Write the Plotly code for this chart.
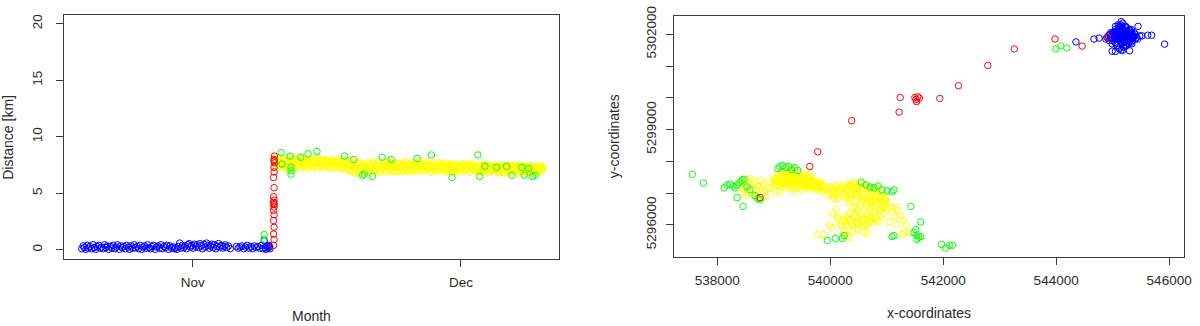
import plotly.graph_objects as go

# ---------------- Left panel: distance over time (days since 1 Nov) ----------------
month_tick_days = [0, 30]
month_tick_labels = ["Nov", "Dec"]
dist_ticks = [0, 5, 10, 15, 20]

blue_day = [
    -12.4, -12.25, -12.1, -11.95, -11.8, -11.65, -11.5, -11.3, -11.15, -11.0,
    -10.85, -10.7, -10.5, -10.35, -10.2, -10.0, -9.85, -9.7, -9.55, -9.4,
    -9.2, -9.05, -8.9, -8.7, -8.55, -8.4, -8.2, -8.05, -7.9, -7.7,
    -7.55, -7.4, -7.2, -7.05, -6.9, -6.7, -6.55, -6.4, -6.2, -6.05,
    -5.9, -5.7, -5.55, -5.4, -5.2, -5.05, -4.9, -4.7, -4.55, -4.4,
    -4.2, -4.05, -3.9, -3.7, -3.55, -3.4, -3.2, -3.05, -2.9, -2.7,
    -2.55, -2.4, -2.2, -2.05, -1.9, -1.75, -1.6, -1.45, -1.3, -1.15,
    -1.0, -0.85, -0.7, -0.55, -0.4, -0.25, -0.1, 0.05, 0.2, 0.35,
    0.5, 0.65, 0.8, 0.95, 1.1, 1.25, 1.4, 1.55, 1.7, 1.85,
    2.0, 2.15, 2.3, 2.45, 2.6, 2.75, 2.9, 3.05, 3.2, 3.35,
    3.5, 3.65, 3.8, 4.0, 4.2, 4.9, 5.1, 5.3, 5.5, 5.7,
    5.9, 6.1, 6.3, 6.5, 6.7, 6.9, 7.1, 7.3, 7.5, 7.7,
    7.85, 8.0, 8.1, 8.2, 8.3, 8.4, 8.5, 8.55, 8.6, 8.65,
]
blue_km = [
    0.1, 0.35, 0.2, 0.05, 0.4, 0.15, 0.3, 0.1, 0.45, 0.2,
    0.05, 0.3, 0.4, 0.15, 0.25, 0.1, 0.45, 0.2, 0.35, 0.05,
    0.3, 0.15, 0.4, 0.1, 0.25, 0.45, 0.05, 0.35, 0.2, 0.3,
    0.1, 0.4, 0.25, 0.05, 0.35, 0.15, 0.45, 0.2, 0.3, 0.1,
    0.4, 0.05, 0.25, 0.35, 0.15, 0.45, 0.2, 0.1, 0.3, 0.4,
    0.05, 0.25, 0.35, 0.15, 0.45, 0.1, 0.3, 0.2, 0.4, 0.05,
    0.35, 0.15, 0.25, 0.1, 0.2, 0.05, 0.3, 0.6, 0.15, 0.4,
    0.2, 0.35, 0.1, 0.45, 0.55, 0.25, 0.4, 0.15, 0.5, 0.3,
    0.45, 0.2, 0.55, 0.35, 0.1, 0.5, 0.25, 0.6, 0.4, 0.15,
    0.35, 0.5, 0.2, 0.45, 0.1, 0.3, 0.55, 0.25, 0.4, 0.15,
    0.3, 0.45, 0.2, 0.35, 0.1, 0.3, 0.15, 0.25, 0.35, 0.1,
    0.25, 0.4, 0.15, 0.3, 0.1, 0.35, 0.2, 0.3, 0.15, 0.4,
    0.1, 0.8, 0.2, 0.05, 0.35, 0.15, 0.4, 0.25, 0.3, 0.1,
]

red_day = [9.05, 9.1, 9.05, 9.1, 9.05, 9.1, 9.05, 9.1, 9.05, 9.1,
           9.1, 9.05, 9.1, 9.1, 9.05, 9.1, 9.1, 9.15, 9.1, 9.15, 9.1]
red_km = [0.4, 0.9, 1.4, 2.0, 2.6, 3.1, 3.5, 4.0, 4.2, 4.4,
          4.1, 4.7, 3.8, 5.5, 6.4, 6.9, 7.3, 7.7, 8.0, 8.3, 7.9]

yellow_day = [
    9.2, 9.3, 9.45, 9.6, 9.7, 9.85, 10.0, 10.1, 10.25, 10.4,
    10.55, 10.7, 10.8, 10.95, 11.1, 11.25, 11.4, 11.5, 11.65, 11.8,
    11.95, 12.1, 12.2, 12.35, 12.5, 12.65, 12.8, 12.9, 13.05, 13.2,
    13.35, 13.5, 13.6, 13.75, 13.9, 14.05, 14.2, 14.3, 14.45, 14.6,
    14.75, 14.9, 15.0, 15.15, 15.3, 15.45, 15.6, 15.7, 15.85, 16.0,
    16.15, 16.3, 16.4, 16.55, 16.7, 16.85, 17.0, 17.1, 17.25, 17.4,
    17.55, 17.7, 17.8, 17.95, 18.1, 18.25, 18.4, 18.5, 18.65, 18.8,
    18.95, 19.1, 19.2, 19.35, 19.5, 19.65, 19.8, 19.9, 20.05, 20.2,
    20.35, 20.5, 20.6, 20.75, 20.9, 21.05, 21.2, 21.3, 21.45, 21.6,
    21.75, 21.9, 22.0, 22.15, 22.3, 22.45, 22.6, 22.7, 22.85, 23.0,
    23.15, 23.3, 23.4, 23.55, 23.7, 23.85, 24.0, 24.1, 24.25, 24.4,
    24.55, 24.7, 24.8, 24.95, 25.1, 25.25, 25.4, 25.5, 25.65, 25.8,
    25.95, 26.1, 26.2, 26.35, 26.5, 26.65, 26.8, 26.9, 27.05, 27.2,
    27.35, 27.5, 27.6, 27.75, 27.9, 28.05, 28.2, 28.3, 28.45, 28.6,
    28.75, 28.9, 29.0, 29.15, 29.3, 29.45, 29.6, 29.7, 29.85, 30.0,
    30.15, 30.3, 30.4, 30.55, 30.7, 30.85, 31.0, 31.1, 31.25, 31.4,
    31.55, 31.7, 31.8, 31.95, 32.1, 32.25, 32.4, 32.5, 32.65, 32.8,
    32.95, 33.1, 33.2, 33.35, 33.5, 33.65, 33.8, 33.9, 34.05, 34.2,
    34.35, 34.5, 34.6, 34.75, 34.9, 35.05, 35.2, 35.3, 35.45, 35.6,
    35.75, 35.9, 36.0, 36.15, 36.3, 36.45, 36.6, 36.7, 36.85, 37.0,
    37.15, 37.3, 37.4, 37.55, 37.7, 37.85, 38.0, 38.1, 38.25, 38.4,
    38.55, 38.7, 38.8, 38.95, 39.1, 39.2,
    # second pass of fixes
    9.25, 9.4, 9.55, 9.75, 9.95, 10.15, 10.35, 10.5, 10.65, 10.85,
    11.05, 11.2, 11.35, 11.55, 11.75, 11.9, 12.05, 12.25, 12.45, 12.6,
    12.75, 12.95, 13.15, 13.3, 13.45, 13.65, 13.85, 14.0, 14.15, 14.35,
    14.55, 14.7, 14.85, 15.05, 15.25, 15.4, 15.55, 15.75, 15.95, 16.1,
    16.25, 16.45, 16.65, 16.8, 16.95, 17.15, 17.35, 17.5, 17.65, 17.85,
    18.05, 18.2, 18.35, 18.55, 18.75, 18.9, 19.05, 19.25, 19.45, 19.6,
    19.75, 19.95, 20.15, 20.3, 20.45, 20.65, 20.85, 21.0, 21.15, 21.35,
    21.55, 21.7, 21.85, 22.05, 22.25, 22.4, 22.55, 22.75, 22.95, 23.1,
    23.25, 23.45, 23.65, 23.8, 23.95, 24.15, 24.35, 24.5, 24.65, 24.85,
    25.05, 25.2, 25.35, 25.55, 25.75, 25.9, 26.05, 26.25, 26.45, 26.6,
    26.75, 26.95, 27.15, 27.3, 27.45, 27.65, 27.85, 28.0, 28.15, 28.35,
    28.55, 28.7, 28.85, 29.05, 29.25, 29.4, 29.55, 29.75, 29.95, 30.1,
    30.25, 30.45, 30.65, 30.8, 30.95, 31.15, 31.35, 31.5, 31.65, 31.85,
    32.05, 32.2, 32.35, 32.55, 32.75, 32.9, 33.05, 33.25, 33.45, 33.6,
    33.75, 33.95, 34.15, 34.3, 34.45, 34.65, 34.85, 35.0, 35.15, 35.35,
    35.55, 35.7, 35.85, 36.05, 36.25, 36.4, 36.55, 36.75, 36.95, 37.1,
    37.25, 37.45, 37.65, 37.8, 37.95, 38.15, 38.35, 38.5, 38.65, 38.85,
    39.0, 39.15,
]
yellow_km = [
    7.4, 7.9, 7.6, 8.1, 7.3, 7.8, 7.5, 8.0, 7.2, 7.7,
    7.9, 7.4, 8.2, 7.6, 7.3, 7.9, 7.7, 8.1, 7.4, 7.8,
    7.6, 8.0, 7.3, 7.8, 7.5, 8.1, 7.7, 7.2, 7.9, 7.6,
    8.0, 7.4, 7.8, 7.6, 8.1, 7.3, 7.9, 7.5, 7.7, 8.0,
    7.4, 7.8, 7.6, 8.0, 7.3, 7.7, 7.9, 7.5, 7.8, 7.2,
    7.6, 7.9, 7.4, 7.7, 8.0, 7.3, 7.6, 7.8, 7.1, 7.5,
    7.0, 7.4, 7.7, 6.9, 7.3, 7.6, 7.1, 7.8, 6.8, 7.4,
    7.2, 7.6, 6.9, 7.5, 7.0, 7.7, 7.3, 6.8, 7.5, 7.1,
    7.6, 7.0, 7.4, 7.8, 7.2, 6.9, 7.5, 7.3, 7.7, 7.0,
    7.4, 7.8, 7.1, 7.5, 6.9, 7.6, 7.3, 7.7, 7.0, 7.4,
    7.2, 7.6, 6.9, 7.5, 7.3, 7.8, 7.0, 7.4, 7.6, 7.1,
    7.5, 7.2, 7.7, 6.9, 7.4, 7.6, 7.1, 7.5, 7.3, 7.8,
    7.0, 7.4, 7.6, 7.2, 7.5, 6.9, 7.3, 7.7, 7.1, 7.4,
    7.6, 7.0, 7.3, 7.5, 7.2, 7.7, 6.9, 7.4, 7.1, 7.6,
    7.3, 7.5, 6.9, 7.2, 7.6, 7.0, 7.4, 7.2, 7.5, 6.9,
    7.3, 7.6, 7.0, 7.4, 7.2, 7.5, 6.9, 7.3, 7.6, 7.1,
    7.4, 7.0, 7.3, 7.5, 7.1, 6.9, 7.4, 7.2, 7.6, 7.0,
    7.3, 7.5, 6.9, 7.2, 7.4, 7.0, 7.5, 7.1, 7.3, 6.9,
    7.4, 7.2, 7.5, 6.8, 7.1, 7.4, 7.0, 7.3, 7.5, 6.9,
    7.2, 7.4, 7.0, 7.3, 6.8, 7.5, 7.1, 7.3, 6.9, 7.4,
    7.1, 7.3, 6.8, 7.5, 7.0, 7.2, 7.4, 6.9, 7.3, 7.1,
    7.4, 6.9, 7.2, 7.5, 7.0, 7.3,
    # second pass of fixes
    7.7, 8.2, 7.5, 7.9, 7.6, 8.0, 7.4, 7.8, 7.1, 7.9,
    7.5, 8.0, 7.8, 7.2, 7.6, 8.1, 7.5, 7.9, 7.3, 7.7,
    7.9, 7.5, 8.0, 7.4, 7.7, 7.9, 7.3, 7.6, 8.0, 7.5,
    7.7, 7.3, 7.9, 7.5, 7.8, 7.2, 7.6, 8.0, 7.4, 7.7,
    7.9, 7.5, 7.2, 7.8, 7.4, 7.7, 7.2, 7.5, 7.9, 7.1,
    7.5, 6.8, 7.2, 7.7, 7.0, 7.4, 7.6, 6.9, 7.3, 7.7,
    7.0, 7.4, 7.8, 7.1, 7.5, 7.3, 6.9, 7.6, 7.2, 7.7,
    7.3, 6.9, 7.6, 7.2, 7.7, 7.0, 7.5, 7.3, 6.9, 7.6,
    7.4, 7.0, 7.7, 7.2, 7.5, 6.9, 7.3, 7.6, 7.0, 7.4,
    7.7, 7.1, 7.4, 7.6, 7.0, 7.3, 7.7, 7.2, 7.5, 6.9,
    7.3, 7.6, 7.0, 7.4, 7.7, 7.1, 7.5, 7.2, 7.6, 7.0,
    7.4, 7.1, 7.6, 7.3, 6.9, 7.5, 7.1, 7.4, 7.2, 7.6,
    7.0, 7.4, 7.2, 7.6, 6.9, 7.3, 7.5, 7.0, 7.4, 7.2,
    7.5, 6.9, 7.3, 7.1, 7.5, 7.2, 6.9, 7.4, 7.1, 7.3,
    7.0, 7.4, 7.2, 6.9, 7.5, 7.1, 7.3, 6.8, 7.2, 7.4,
    7.0, 7.3, 7.1, 7.5, 6.9, 7.2, 7.4, 7.0, 7.3, 7.1,
    7.4, 6.9, 7.2, 7.0, 7.4, 7.1, 6.8, 7.3, 7.0, 7.2,
    7.1, 7.3,
]

green_day = [8.0, 8.0, 9.9, 10.0, 10.9, 11.0, 11.0, 11.0, 12.1, 12.9,
             13.9, 17.0, 18.0, 19.0, 19.2, 20.1, 21.2, 22.2, 25.1, 26.7,
             29.0, 31.9, 32.1, 32.7, 34.0, 35.1, 35.7, 36.8, 37.1, 37.6,
             38.0, 38.3]
green_km = [1.35, 0.95, 8.6, 7.6, 8.3, 7.3, 7.0, 6.7, 8.2, 8.5,
            8.7, 8.3, 8.0, 6.6, 6.7, 6.5, 8.2, 8.0, 8.1, 8.4,
            6.4, 8.4, 6.5, 7.4, 7.3, 7.4, 6.6, 7.3, 6.6, 7.2,
            6.5, 6.6]

# ---------------- Right panel: coordinates ----------------
x_ticks = [538000, 540000, 542000, 544000, 546000]
y_ticks = [5296000, 5297000, 5298000, 5299000, 5300000, 5301000, 5302000]
y_tick_labels = ["5296000", "", "", "5299000", "", "", "5302000"]

blue_x = [
    545100, 545200, 545050, 545300, 545150, 544950, 545250, 545350, 545000, 545180,
    545120, 545280, 545060, 545220, 544980, 545400, 545140, 545320, 545080, 545240,
    545160, 545020, 545360, 545110, 545260, 544920, 545190, 545300, 545040, 545420,
    545130, 545230, 545070, 545340, 545170, 544990, 545270, 545090, 545380, 545210,
    545150, 545050, 545310, 545110, 545250, 544960, 545190, 545440, 545030, 545290,
    545120, 545360, 545080, 545200, 545010, 545330, 545160, 545240, 544940, 545100,
    545280, 545060, 545180, 545400, 545140, 545230, 545000, 545350, 545090, 545260,
    545170, 545030, 545310, 545120, 545210, 544970, 545380, 545150, 545070, 545290,
    545250, 545110, 545190, 545340, 545050, 545230, 545140, 545480, 544900, 545200,
    545100, 545270, 545020, 545330, 545170, 545080, 545240, 545130, 545300, 545060,
    545220, 545150, 545370, 545010, 545190, 545260, 545120, 545520, 544880, 545180,
    545090, 545310, 545140, 545040, 545230, 545160, 545280, 545110, 545200, 545350,
    544350, 544670, 544760, 545620, 545690, 545920, 544990, 545050, 545300, 545450,
]
blue_y = [
    5302050, 5301950, 5302150, 5301850, 5301750, 5302000, 5302200, 5301900, 5301800, 5302100,
    5302250, 5301700, 5301950, 5302050, 5301900, 5301850, 5302300, 5302000, 5301650, 5301800,
    5302150, 5302050, 5301950, 5301850, 5302100, 5301950, 5301600, 5302150, 5301750, 5301900,
    5302000, 5302250, 5301850, 5302050, 5301950, 5301700, 5301800, 5302100, 5301950, 5301900,
    5301850, 5302000, 5302050, 5302200, 5301650, 5301900, 5302100, 5301850, 5301950, 5301750,
    5301550, 5301950, 5302050, 5301850, 5302000, 5302150, 5301700, 5302200, 5301800, 5301950,
    5301900, 5302100, 5302350, 5302000, 5301800, 5301650, 5302050, 5301800, 5301900, 5302000,
    5302200, 5301850, 5301950, 5302100, 5301750, 5302050, 5302050, 5301500, 5301950, 5302150,
    5301800, 5302000, 5301900, 5301700, 5302250, 5302100, 5302050, 5301950, 5301900, 5301600,
    5302300, 5301900, 5302000, 5301750, 5302000, 5301850, 5301650, 5302150, 5302000, 5301700,
    5302000, 5302400, 5301900, 5301900, 5301800, 5302000, 5301900, 5301950, 5301850, 5301500,
    5302100, 5302100, 5301750, 5302000, 5301950, 5302250, 5301950, 5301550, 5301850, 5301850,
    5301760, 5301850, 5301880, 5301970, 5301970, 5301690, 5301470, 5301460, 5301480, 5302250,
]

red_x = [541240, 541220, 541500, 541550, 541530, 541580, 541520, 541940, 542270,
         542790, 543260, 543980, 544460, 544910, 540380, 539780, 539640, 538760]
red_y = [5300010, 5299550, 5300010, 5300030, 5299880, 5299990, 5299950, 5299980, 5300380,
         5301020, 5301540, 5301850, 5301630, 5301910, 5299280, 5298300, 5297840, 5296860]

green_x = [
    537560, 537754, 538123, 538176, 538229, 538281, 538316, 538352, 538404, 538440,
    538475, 538352, 538457, 538668, 538721, 538756, 538527, 538580,
    539072, 539108, 539160, 539213, 539266, 539319, 539371, 539424,
    540549, 540637, 540707, 540778, 540848, 540918, 541006, 541094, 541129,
    541428, 541604, 541516, 541481, 541534, 541569, 541604, 541534, 541129, 541094,
    539951, 540092, 540215, 540250,
    541973, 542043, 542114, 542166,
    543995, 544083, 544189,
]
green_y = [
    5297592, 5297317, 5297164, 5297255, 5297286, 5297225, 5297164, 5297255, 5297347, 5297408,
    5297439, 5296857, 5296582, 5296919, 5296827, 5296796, 5297194, 5297102,
    5297776, 5297837, 5297868, 5297806, 5297837, 5297745, 5297806, 5297715,
    5297347, 5297255, 5297194, 5297164, 5297225, 5297102, 5297072, 5297041, 5297102,
    5296582, 5296092, 5295848, 5295756, 5295664, 5295603, 5295633, 5295541, 5295664, 5295633,
    5295511, 5295572, 5295572, 5295664,
    5295388, 5295266, 5295358, 5295358,
    5301541, 5301633, 5301572,
]

yellow_x = [
    # west end
    538420, 538460, 538500, 538540, 538580, 538620, 538660, 538700, 538740, 538780,
    538820, 538860, 538900, 538440, 538520, 538600, 538680, 538760, 538840, 538920,
    538480, 538560, 538640, 538720, 538800,
    # main blob
    539000, 539050, 539100, 539150, 539200, 539250, 539300, 539350, 539400, 539450,
    539500, 539550, 539600, 539650, 539700, 539750, 539800, 539850, 538950, 539020,
    539080, 539130, 539180, 539230, 539280, 539330, 539380, 539430, 539480, 539530,
    539580, 539630, 539680, 539730, 539780, 539830, 539880, 539060, 539160, 539260,
    539360, 539460, 539560, 539660, 539760, 539110, 539210, 539310, 539410, 539510,
    539610, 539710, 539810, 539040, 539140, 539240, 539340, 539440, 539540, 539640,
    539200, 539300, 539400, 539500, 539600, 539250, 539350, 539450, 539550, 539650,
    539020, 539070, 539120, 539170, 539220, 539270, 539320, 539370, 539420, 539470,
    539520, 539570, 539620, 539670, 539720, 539770, 539820, 539870, 539090, 539190,
    539290, 539390, 539490, 539590, 539690, 539790, 539140, 539240, 539340, 539440,
    539540, 539640, 539740, 539840, 539010, 539110, 539210, 539310, 539410, 539510,
    539610, 539710, 539810, 539160, 539260, 539360, 539460, 539560, 539660, 539760,
    # narrow band
    539920, 539960, 540000, 540040, 540080, 540120, 540160, 540200, 540240, 540280,
    540320, 540360, 540400, 540440, 540480, 539940, 540020, 540100, 540180, 540260,
    540340, 540420, 540500, 540060, 540220,
    # eastern blob
    540300, 540350, 540400, 540450, 540500, 540550, 540600, 540650, 540700, 540750,
    540800, 540850, 540900, 540950, 541000, 540320, 540420, 540520, 540620, 540720,
    540820, 540920, 540380, 540480, 540580, 540680, 540780, 540880, 540980, 540560,
    540660, 540760, 540860, 540960, 540460,
    540010, 540090, 540170, 540250, 540330, 540410, 540490, 540570, 540650, 540730,
    540810, 540890, 540970, 540350, 540450, 540550, 540650, 540750, 540850, 540950,
    540400, 540500, 540600, 540700, 540800, 540900, 540300, 540520, 540740, 540840,
    # southern spread
    540074, 540127, 540444, 540039, 540127, 540303, 540426, 540549, 540655, 540778,
    540901, 540285, 540373, 540549, 540725, 540830, 539987, 540039, 540198, 539776,
    539881, 540250, 540303, 540338, 540602, 540655, 540444, 540954, 541077, 541077,
    540954, 540760, 541182, 541270, 540200, 540350, 540500, 540600, 540700, 540450,
    540650, 540800, 540300, 540400, 540100,
    540150, 540250, 540350, 540450, 540550, 540650, 540750, 540850, 540950, 540200,
    540300, 540400, 540500, 540600, 540700, 540800, 540250, 540500, 540650, 540900,
    # south-east tail
    541100, 541150, 541200, 541250, 541300, 541180, 541350, 541042, 541305, 541393,
]
yellow_y = [
    5297300, 5297150, 5297400, 5297050, 5297250, 5296950, 5297350, 5297100, 5297200, 5297000,
    5297300, 5296900, 5297150, 5297000, 5296950, 5297450, 5296900, 5297400, 5297050, 5297350,
    5297250, 5297350, 5297100, 5297250, 5296850,
    5297350, 5297500, 5297200, 5297650, 5297400, 5297250, 5297700, 5297450, 5297300, 5297550,
    5297350, 5297200, 5297450, 5297300, 5297150, 5297250, 5297200, 5297100, 5297150, 5297450,
    5297600, 5297300, 5297500, 5297150, 5297400, 5297600, 5297250, 5297450, 5297200, 5297500,
    5297300, 5297600, 5297400, 5297300, 5297100, 5297350, 5297150, 5297250, 5297350, 5297550,
    5297150, 5297650, 5297250, 5297500, 5297200, 5297050, 5297600, 5297350, 5297550, 5297100,
    5297400, 5297250, 5297250, 5297050, 5297700, 5297300, 5297500, 5297150, 5297600, 5297200,
    5297450, 5297250, 5297400, 5297300, 5297350, 5297800, 5297050, 5297500, 5297450, 5297350,
    5297250, 5297400, 5297550, 5297300, 5297500, 5297350, 5297550, 5297250, 5297500, 5297350,
    5297450, 5297350, 5297250, 5297400, 5297300, 5297200, 5297350, 5297250, 5297350, 5297550,
    5297450, 5297600, 5297300, 5297400, 5297200, 5297300, 5297450, 5297400, 5297300, 5297400,
    5297250, 5297500, 5297250, 5297200, 5297400, 5297500, 5297350, 5297650, 5297350, 5297450,
    5297150, 5297400, 5297150, 5297300, 5297500, 5297400, 5297450, 5297350, 5297300, 5297350,
    5297100, 5297200, 5297000, 5297150, 5296950, 5297250, 5297050, 5297150, 5296900, 5297200,
    5297100, 5297250, 5297000, 5297300, 5297150, 5296950, 5297100, 5297200, 5297050, 5296950,
    5297300, 5297100, 5297200, 5296900, 5297250,
    5297100, 5296950, 5297250, 5296800, 5297050, 5297300, 5296900, 5297150, 5296700, 5297000,
    5296850, 5297100, 5296750, 5296950, 5296650, 5296700, 5297350, 5296600, 5297250, 5296850,
    5297150, 5296600, 5297200, 5297100, 5296800, 5297000, 5297200, 5296900, 5296800, 5296700,
    5296600, 5296750, 5296950, 5296850, 5296900,
    5297200, 5297050, 5297150, 5297000, 5297200, 5296950, 5297100, 5296850, 5297050, 5296750,
    5296950, 5296850, 5296750, 5296800, 5296950, 5297150, 5296650, 5297050, 5296650, 5296550,
    5296550, 5296450, 5296950, 5296500, 5296550, 5296450, 5296850, 5296350, 5296800, 5296750,
    5296827, 5296827, 5296552, 5296368, 5296215, 5296215, 5296276, 5296307, 5296368, 5296429,
    5296307, 5296062, 5296000, 5296062, 5296092, 5296153, 5296000, 5295909, 5295970, 5295695,
    5295695, 5295695, 5295664, 5295603, 5295786, 5295725, 5295909, 5296582, 5296582, 5296521,
    5296674, 5296582, 5296000, 5295695, 5296100, 5296150, 5296200, 5296150, 5296250, 5296100,
    5296050, 5296300, 5296300, 5295800, 5296500,
    5296250, 5296150, 5296350, 5296250, 5296150, 5296300, 5296200, 5296100, 5296350, 5296000,
    5295950, 5296050, 5296000, 5295950, 5296100, 5296200, 5295800, 5295850, 5296000, 5296450,
    5296400, 5296250, 5296450, 5296300, 5296150, 5296550, 5296000, 5296092, 5295756, 5295786,
]

# ---------------- Figure ----------------
FONT = "Liberation Sans, Arial, sans-serif"
TXT = "#2b2b2b"
AX = "#3c3c3c"
COL = {"blue": "#0000FF", "red": "#FF0000", "green": "#00FF00", "yellow": "#FFFF00"}


def pts(x, y, color, xa, ya):
    return go.Scatter(
        x=x, y=y, mode="markers", xaxis=xa, yaxis=ya, showlegend=False,
        hoverinfo="skip",
        marker=dict(symbol="circle-open", size=6.5, color=color, line=dict(width=1.0, color=color)),
    )


fig = go.Figure()
for x, y, c in [(yellow_day, yellow_km, "yellow"), (blue_day, blue_km, "blue"),
                (green_day, green_km, "green"), (red_day, red_km, "red")]:
    fig.add_trace(pts(x, y, COL[c], "x", "y"))
for x, y, c in [(yellow_x, yellow_y, "yellow"), (green_x, green_y, "green"),
                (blue_x, blue_y, "blue"), (red_x, red_y, "red")]:
    fig.add_trace(pts(x, y, COL[c], "x2", "y2"))

axis_common = dict(
    showgrid=False, zeroline=False, showline=True, mirror=True,
    linecolor=AX, linewidth=1, ticks="outside", ticklen=7, tickwidth=1,
    tickcolor=AX, tickfont=dict(family=FONT, size=13.5, color=TXT),
    ticklabeloverflow="allow",
)

fig.update_layout(
    width=1200, height=326,
    margin=dict(l=0, r=0, t=0, b=0),
    paper_bgcolor="white", plot_bgcolor="white",
    xaxis=dict(domain=[64 / 1200, 563 / 1200], range=[-14.44, 41.0],
               tickvals=month_tick_days, ticktext=month_tick_labels,
               ticklabelstandoff=4, **axis_common),
    yaxis=dict(domain=[1 - 257 / 326, 1 - 6 / 326], range=[-0.8, 20.8],
               tickvals=dist_ticks, ticktext=[str(v) for v in dist_ticks],
               tickangle=-90, ticklabelstandoff=8, **axis_common),
    xaxis2=dict(domain=[679 / 1200, 1192 / 1200], range=[537244, 546264],
                tickvals=x_ticks, ticktext=[str(v) for v in x_ticks],
                ticklabelstandoff=4, anchor="y2", **axis_common),
    yaxis2=dict(domain=[1 - 255 / 326, 1 - 7 / 326], range=[5294990, 5302582],
                tickvals=y_ticks, ticktext=y_tick_labels,
                tickangle=-90, ticklabelstandoff=5, anchor="x2", **axis_common),
)

title_font = dict(family=FONT, size=14, color=TXT)
fig.add_annotation(text="Distance [km]", x=8 / 1200, y=1 - 131.5 / 326, xref="paper", yref="paper",
                   textangle=-90, showarrow=False, font=title_font, xanchor="center", yanchor="middle")
fig.add_annotation(text="Month", x=313.5 / 1200, y=1 - 316 / 326, xref="paper", yref="paper",
                   showarrow=False, font=title_font, xanchor="center", yanchor="middle")
fig.add_annotation(text="y-coordinates", x=619 / 1200, y=1 - 131 / 326, xref="paper", yref="paper",
                   textangle=-90, showarrow=False, font=title_font, xanchor="center", yanchor="middle")
fig.add_annotation(text="x-coordinates", x=935 / 1200, y=1 - 313 / 326, xref="paper", yref="paper",
                   showarrow=False, font=title_font, xanchor="center", yanchor="middle")

fig.write_html(
    "out.html",
    config={"displayModeBar": False},
    post_script="document.body.style.margin='0';document.body.style.overflow='hidden';",
)
